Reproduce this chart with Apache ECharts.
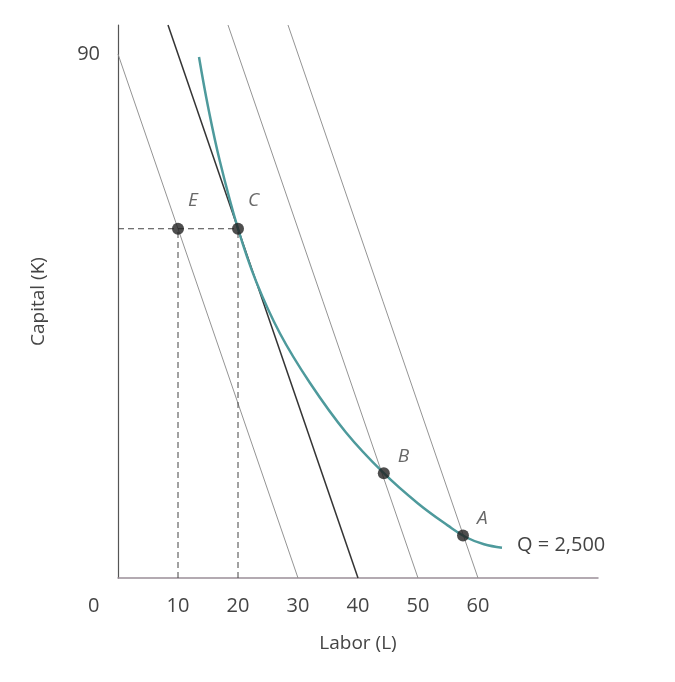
<!DOCTYPE html>
<html><head><meta charset="utf-8">
<script src="https://cdn.jsdelivr.net/npm/echarts@6/dist/echarts.min.js"></script>
<style>html,body{margin:0;background:#fff}#c{width:675px;height:682px}</style>
</head><body><div id="c"></div>
<script>
const isoquant = [[13.5,89.5],[15,81],[17,71.5],[20,60],[23,51],[27,42],[32,33.5],[38,25],[44.3,18],[50,12.8],[55,9],[58,7],[61,5.8],[64,5.2]];
const isocostIntercepts = [30, 40, 50, 60];
const isocostTop = 95;
const points = [{name:'E',v:[10,60]},{name:'C',v:[20,60]},{name:'B',v:[44.3,18]},{name:'A',v:[57.5,7.3]}];
const xTicks = [10,20,30,40,50,60];

const chart = echarts.init(document.getElementById('c'));
const font = 'Open Sans';
const series = isocostIntercepts.map(b => ({
  type:'line', symbol:'none', silent:true,
  data: b === 30 ? [[0,90],[b,0]] : [[b - isocostTop/3, isocostTop],[b,0]],
  lineStyle:{color: b === 40 ? '#333' : '#888', width: b === 40 ? 1.5 : 0.9}
}));
series.push({type:'line', symbol:'none', smooth:0.4, data: isoquant, lineStyle:{color:'#4e9a9c', width:2.5}});
const dash = {color:'#444', type:[6,4], width:1};
series.push({type:'line', symbol:'none', data:[[0,60],[20,60]], lineStyle:dash});
series.push({type:'line', symbol:'none', data:[[10,0],[10,60]], lineStyle:dash});
series.push({type:'line', symbol:'none', data:[[20,0],[20,60]], lineStyle:dash});
series.push({type:'scatter', symbolSize:12, itemStyle:{color:'#222'}, z:5,
  data: points.map(p => ({value:p.v, name:p.name, label:{show:true, formatter:p.name,
    position: p.name==='E'||p.name==='C' ? [16,-32] : [20,-20], fontStyle:'italic', fontSize:19, color:'#444', fontFamily:font}}))});

chart.setOption({
  animation:false,
  grid:{left:118, right:77, top:25, bottom:104},
  xAxis:{type:'value', min:0, max:80, interval:10,
    axisLine:{lineStyle:{color:'#9a8e98', width:1.5}}, axisTick:{show:false}, splitLine:{show:false},
    axisLabel:{formatter:v => xTicks.includes(v) ? String(v) : '', color:'#444', fontSize:20, fontFamily:font, margin:18},
    name:'Labor (L)', nameLocation:'middle', nameGap:56, nameTextStyle:{color:'#444', fontSize:19, fontFamily:font}},
  yAxis:{type:'value', min:0, max:95, interval:5,
    axisLine:{show:true, lineStyle:{color:'#555', width:1.2}}, axisTick:{show:false}, splitLine:{show:false},
    axisLabel:{formatter:v => v===90 ? '90' : '', color:'#444', fontSize:20, fontFamily:font, margin:18},
    name:'Capital (K)', nameLocation:'middle', nameGap:70, nameTextStyle:{color:'#444', fontSize:19, fontFamily:font}},
  graphic:[
    {type:'text', left:88, top:596, style:{text:'0', fontSize:20, fill:'#444', fontFamily:font}},
    {type:'text', left:517, top:535, style:{text:'Q = 2,500', fontSize:20, fill:'#444', fontFamily:font}}
  ],
  series
});
</script></body></html>
